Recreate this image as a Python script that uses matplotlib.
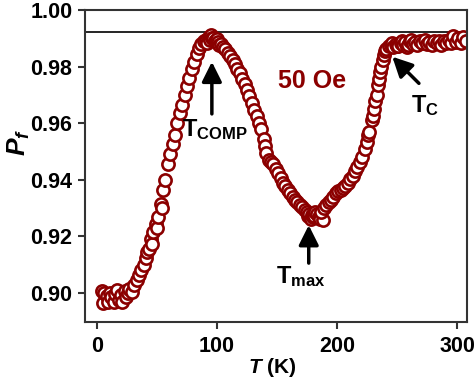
import matplotlib
matplotlib.use("Agg")
import matplotlib.pyplot as plt

plt.rcParams['font.family'] = ['Liberation Sans', 'DejaVu Sans']
plt.rcParams['font.weight'] = 'bold'
plt.rcParams['mathtext.fontset'] = 'custom'
plt.rcParams['mathtext.rm'] = 'Liberation Sans:bold'
plt.rcParams['mathtext.bf'] = 'Liberation Sans:bold'
plt.rcParams['mathtext.it'] = 'Liberation Sans:italic:bold'

# ---- data ----
T_low = [4, 5, 6, 8, 9, 11, 12, 14, 15, 17, 18, 20, 21, 23, 24, 26, 27, 29]
P_low = [0.9008, 0.8965, 0.9000, 0.8990, 0.8970, 0.9002, 0.8985, 0.8968, 0.8998,
         0.9010, 0.8975, 0.8995, 0.8970, 0.9008, 0.8985, 0.9000, 0.9015, 0.9005]

T_rise = [31, 33, 35, 37, 39, 41, 42, 43, 45, 46, 47, 49, 50, 51, 53, 54, 55, 57, 59,
          61, 63, 65, 67, 69, 71, 73, 75, 77, 79, 81, 83, 85, 87, 89, 91, 92, 93, 94]
P_rise = [0.9030, 0.9045, 0.9065, 0.9080, 0.9100, 0.9125, 0.9145, 0.9155, 0.9190, 0.9175,
          0.9215, 0.9245, 0.9230, 0.9270, 0.9315, 0.9300, 0.9365, 0.9400, 0.9455,
          0.9490, 0.9525, 0.9560, 0.9600, 0.9635, 0.9665, 0.9700, 0.9730, 0.9760,
          0.9790, 0.9815, 0.9845, 0.9865, 0.9880, 0.9890, 0.9895, 0.9885, 0.9905, 0.9895]

T_fall = [95, 96, 97, 98, 99, 100, 101, 102, 103, 105, 107, 109, 111, 113, 115, 117,
          119, 121, 123, 125, 127, 129, 131, 133, 135, 137, 139, 140, 141, 143, 145]
P_fall = [0.9910, 0.9900, 0.9902, 0.9890, 0.9895, 0.9898, 0.9888, 0.9875, 0.9880,
          0.9870, 0.9862, 0.9848, 0.9838, 0.9822, 0.9808, 0.9792, 0.9778, 0.9758,
          0.9740, 0.9718, 0.9695, 0.9672, 0.9648, 0.9625, 0.9600, 0.9578, 0.9545,
          0.9520, 0.9495, 0.9470, 0.9462]

T_trough = [147, 149, 151, 153, 155, 157, 159, 161, 163, 165, 167, 169, 171, 173,
            175, 176, 177, 178, 179, 180, 181, 182, 183, 185, 186, 188]
P_trough = [0.9455, 0.9440, 0.9425, 0.9405, 0.9390, 0.9378, 0.9365, 0.9352, 0.9340,
            0.9330, 0.9322, 0.9312, 0.9305, 0.9295, 0.9288, 0.9272, 0.9280, 0.9262,
            0.9275, 0.9268, 0.9272, 0.9285, 0.9278, 0.9270, 0.9262, 0.9258]

T_up = [187, 189, 191, 193, 195, 197, 199, 201, 203, 205, 207, 209, 211, 213, 215,
        217, 219, 221, 223, 225, 226, 227, 229, 230, 231, 232, 233, 234, 235, 236,
        237, 238, 239, 240, 241, 243]
P_up = [0.9285, 0.9300, 0.9310, 0.9322, 0.9330, 0.9340, 0.9352, 0.9360, 0.9365,
        0.9370, 0.9380, 0.9390, 0.9402, 0.9415, 0.9430, 0.9445, 0.9462, 0.9482,
        0.9510, 0.9535, 0.9560, 0.9570, 0.9610, 0.9625, 0.9650, 0.9680, 0.9700,
        0.9735, 0.9755, 0.9780, 0.9800, 0.9822, 0.9840, 0.9855, 0.9862, 0.9872]

T_flat = [245, 246, 247, 249, 250, 251, 253, 254, 255, 257, 258, 259, 261, 262, 263,
          265, 267, 269, 271, 273, 275, 277, 279, 281, 283, 285, 287, 289, 291, 293,
          295, 297, 299, 301, 303, 305, 307]
P_flat = [0.9875, 0.9884, 0.9868, 0.9880, 0.9872, 0.9874, 0.9885, 0.9890, 0.9876,
          0.9888, 0.9870, 0.9878, 0.9890, 0.9895, 0.9880, 0.9888, 0.9875, 0.9890,
          0.9882, 0.9893, 0.9880, 0.9888, 0.9877, 0.9890, 0.9883, 0.9892, 0.9878,
          0.9889, 0.9882, 0.9895, 0.9885, 0.9908, 0.9887, 0.9900, 0.9883, 0.9903, 0.9890]

T = T_low + T_rise + T_fall + T_trough + T_up + T_flat
P = P_low + P_rise + P_fall + P_trough + P_up + P_flat

ref_level = 0.9923
xticks = [0, 100, 200, 300]
yticks = [0.90, 0.92, 0.94, 0.96, 0.98, 1.00]

dark_red = '#8B0000'

fig = plt.figure(figsize=(4.74, 3.79), dpi=100)
ax = fig.add_axes([0.1793, 0.1504, 0.8053, 0.8232])

ax.axhline(ref_level, color='black', lw=1.2, zorder=1)
ax.plot(T, P, ls='none', marker='o', ms=8.8, mfc='white', mec=dark_red, mew=1.9, zorder=2)

ax.set_xlim(-10, 308)
ax.set_ylim(0.8898, 1.0)
ax.set_xticks(xticks)
ax.set_yticks(yticks)
ax.set_xticklabels([str(v) for v in xticks])
ax.set_yticklabels([f"{v:.2f}" for v in yticks])
ax.tick_params(axis='both', direction='out', length=5, width=1.5, labelsize=15.5,
               color='#333333', top=False, right=False)
ax.tick_params(axis='y', pad=4)
ax.tick_params(axis='x', pad=5)
for lbl in ax.get_xticklabels() + ax.get_yticklabels():
    lbl.set_fontweight('bold')
for s in ax.spines.values():
    s.set_linewidth(1.5)
    s.set_color('#333333')

ax.set_xlabel(r'$T$ (K)', fontsize=15, fontweight='bold')
ax.xaxis.set_label_coords(0.49, -0.108)
ax.set_ylabel(r'$P_f$', fontsize=19, fontweight='bold')
ax.yaxis.set_label_coords(-0.14, 0.575)

ax.text(179, 0.9749, '50 Oe', color=dark_red, fontsize=18, fontweight='bold',
        ha='center', va='center')

arrow = dict(arrowstyle='-|>,head_length=0.6,head_width=0.3', mutation_scale=20,
             lw=2.5, color='black', shrinkA=0, shrinkB=0)
ax.annotate('', xy=(95.7, 0.9817), xytext=(95.7, 0.9633), arrowprops=arrow)
ax.annotate('', xy=(176.4, 0.9240), xytext=(176.4, 0.9106), arrowprops=arrow)
ax.annotate('', xy=(246, 0.9835), xytext=(268.2, 0.9741), arrowprops=arrow)

ax.text(98.5, 0.9578, r'T$_{\mathrm{COMP}}$', fontsize=17, fontweight='bold',
        ha='center', va='center')
ax.text(170, 0.9058, r'T$_{\mathrm{max}}$', fontsize=17, fontweight='bold',
        ha='center', va='center')
ax.text(273, 0.9664, r'T$_{\mathrm{C}}$', fontsize=17, fontweight='bold',
        ha='center', va='center')

fig.savefig('out.png', dpi=100)
